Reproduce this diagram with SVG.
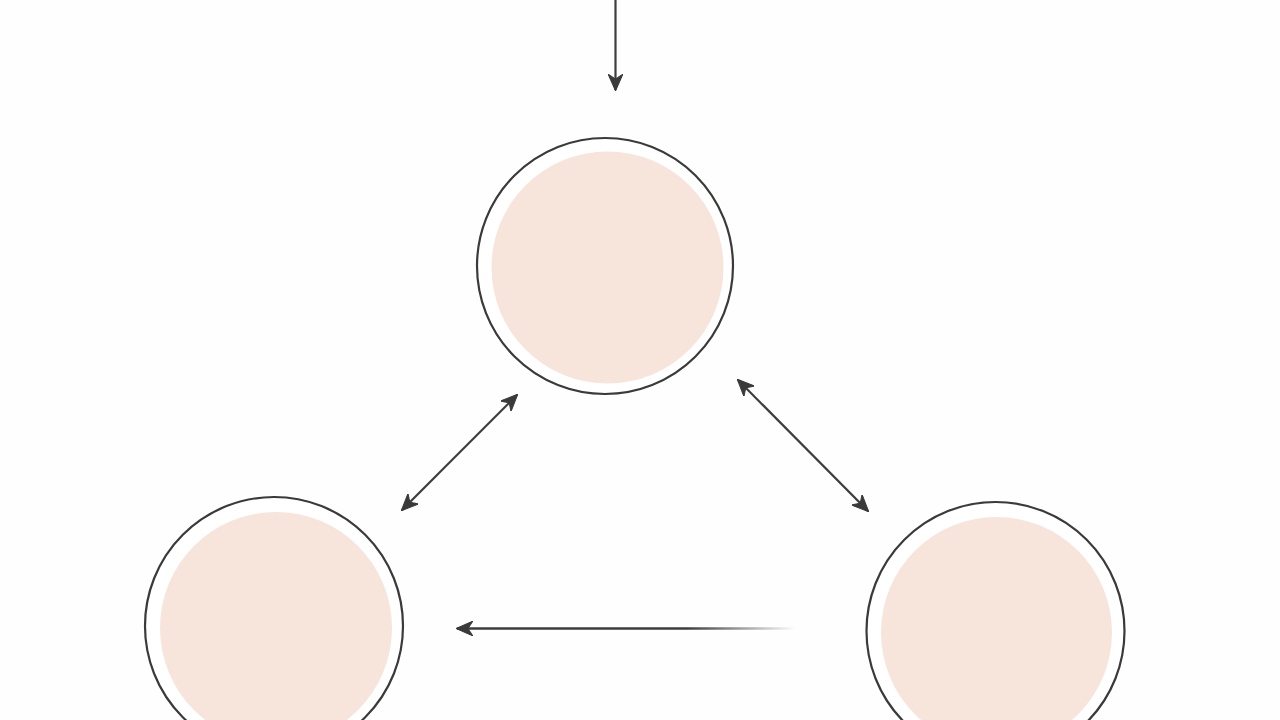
<svg xmlns="http://www.w3.org/2000/svg" width="1280" height="720" viewBox="0 0 1280 720">
<style>
.ring{fill:#ffffff;stroke:#3a3a3a;stroke-width:2.2}
.core{fill:#f7e5dc}
.conn{fill:none;stroke:#3d3d3d;stroke-width:2.2}
</style>
<defs>
<marker id="ah" viewBox="0 0 17 15" refX="16" refY="7.5" markerWidth="17" markerHeight="15" markerUnits="userSpaceOnUse" orient="auto-start-reverse">
<path d="M0,0 L17,7.5 L0,15 L5,7.5 z" fill="#3a3a3a" stroke="#3a3a3a" stroke-width="1" stroke-linejoin="round"/>
</marker>
<linearGradient id="fade" gradientUnits="userSpaceOnUse" x1="457" y1="0" x2="795" y2="0">
<stop offset="0" stop-color="#3d3d3d"/>
<stop offset="0.68" stop-color="#3d3d3d"/>
<stop offset="1" stop-color="#3d3d3d" stop-opacity="0"/>
</linearGradient>
</defs>
<rect width="1280" height="720" fill="#fefefe"/>
<g id="node-top">
<circle class="ring" cx="605" cy="266" r="128"/>
<circle class="core" cx="607.5" cy="267.5" r="116"/>
</g>
<g id="node-left">
<circle class="ring" cx="274" cy="626" r="129"/>
<circle class="core" cx="276" cy="628" r="116"/>
</g>
<g id="node-right">
<circle class="ring" cx="995.5" cy="631" r="129"/>
<circle class="core" cx="996.5" cy="632.5" r="115.5"/>
</g>
<g id="connectors">
<line class="conn" x1="615.5" y1="0" x2="615.5" y2="90" marker-end="url(#ah)"/>
<line class="conn" x1="517" y1="395" x2="402" y2="510" marker-start="url(#ah)" marker-end="url(#ah)"/>
<line class="conn" x1="738" y1="380" x2="868" y2="511" marker-start="url(#ah)" marker-end="url(#ah)"/>
<line x1="795" y1="628.5" x2="457" y2="628.5" stroke="url(#fade)" stroke-width="2.4" marker-end="url(#ah)"/>
</g>
</svg>
